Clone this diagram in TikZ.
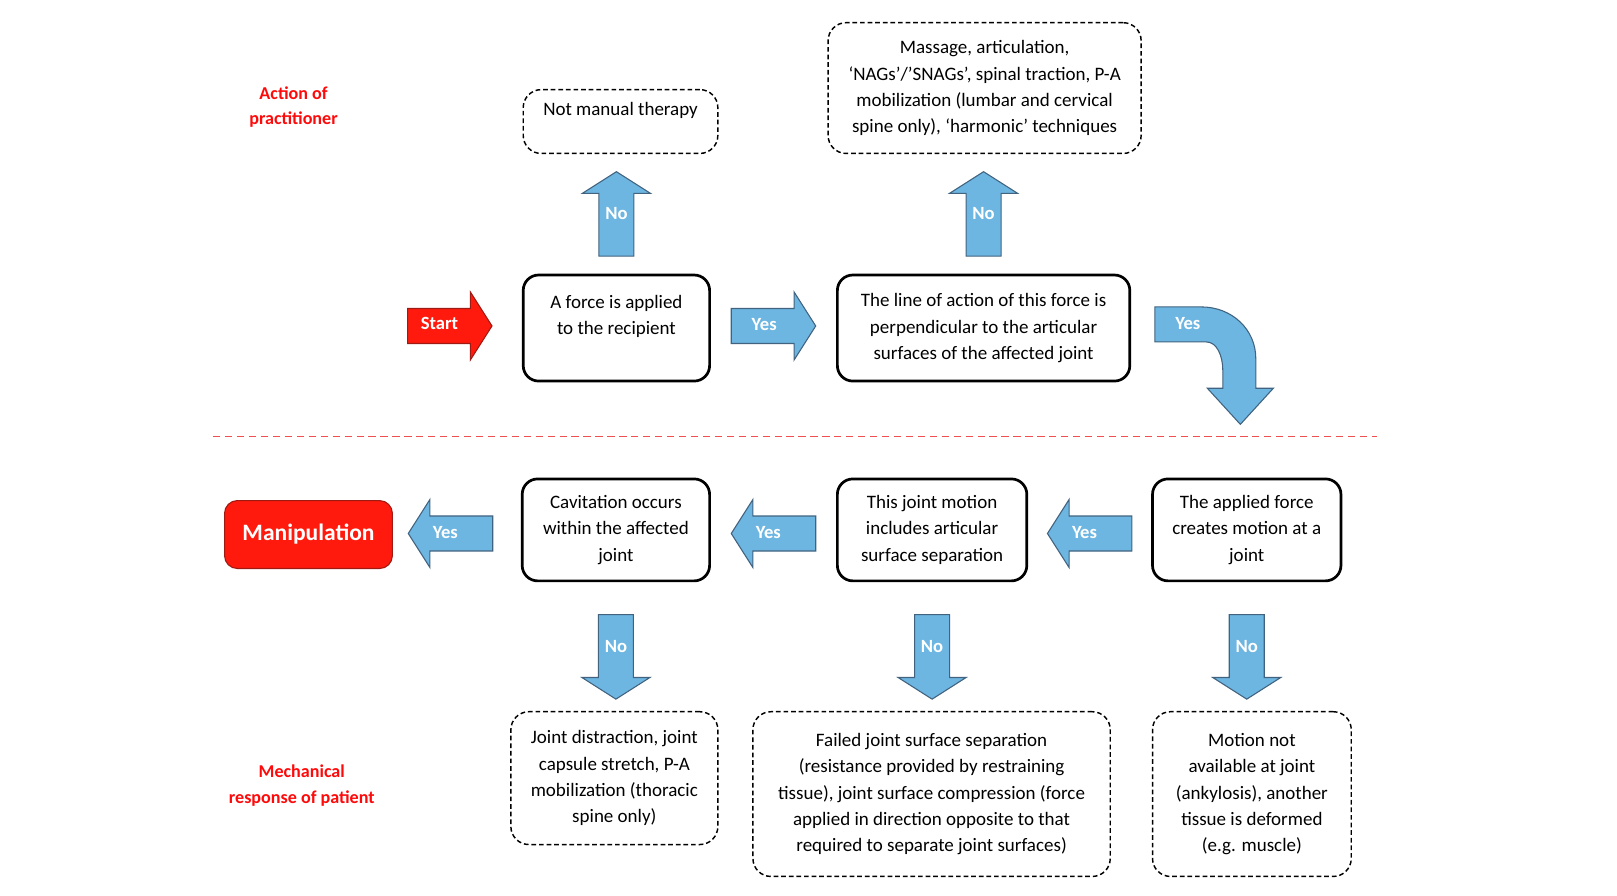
\documentclass[tikz,border=0pt]{standalone}
\usepackage{fontspec}
\setmainfont{Carlito}
\usetikzlibrary{positioning, calc}

\definecolor{arrowblue}{HTML}{6DB6E2}
\definecolor{arrowedge}{HTML}{41637F}
\definecolor{flowred}{HTML}{FF1A0D}
\definecolor{rededge}{HTML}{9E1A12}
\definecolor{labelred}{HTML}{FF0A0A}
\definecolor{splitred}{HTML}{EE4F4F}

\tikzset{
    stepbox/.style = {draw, line width=1.5pt, rounded corners=0.3cm, align=center,
        font=\fontsize{10.5}{14.5}\selectfont},
    optionbox/.style = {draw, line width=0.8pt, dash pattern=on 2.6pt off 1.6pt,
        rounded corners=0.35cm, align=center, font=\fontsize{10.5}{14.5}\selectfont},
    sidelabel/.style = {text=labelred, align=center, font=\bfseries\fontsize{10}{14.2}\selectfont},
    arrowlabel/.style = {text=white, font=\bfseries\fontsize{10.3}{12}\selectfont},
    bluearrow/.style = {fill=arrowblue, draw=arrowedge, line width=0.6pt},
    redarrow/.style = {fill=flowred, draw=rededge, line width=0.6pt},
    pics/blockarrow/.style = {code = {
        \draw[#1] (-41,-17) -- (20,-17) -- (20,-33) -- (41,0) -- (20,33) -- (20,17) -- (-41,17) -- cycle;
    }},
    pics/blockarrow/.default = bluearrow
}

\begin{document}
\begin{tikzpicture}[x = 0.02cm, y = -0.02cm]
    \useasboundingbox (0,0) rectangle (1570,869);

    % side labels and the dividing line
    \node[sidelabel] (action) at (285,104) {Action of\\practitioner};
    \node[sidelabel] (response) at (293,763) {Mechanical\\response of patient};
    \draw[splitred, line width=0.8pt, dash pattern=on 4pt off 2.6pt] (207,424) -- (1337,424);

    % upper row
    \node[stepbox, minimum width=3.62cm, minimum height=2.06cm] (force) at (598.5,318.5)
        {A force is applied\\to the recipient\\\mbox{}};
    \node[stepbox, minimum width=5.68cm, minimum height=2.06cm] (line) at (955,318.5)
        {The line of action of this force is\\perpendicular to the articular\\surfaces of the affected joint};
    \node[optionbox, minimum width=3.78cm, minimum height=1.24cm] (notmanual) at (602.5,118)
        {Not manual therapy\\\mbox{}};
    \node[optionbox, minimum width=6.08cm, minimum height=2.54cm] (massage) at (956,85.5)
        {Massage, articulation,\\‘NAGs’/’SNAGs’, spinal traction, P-A\\mobilization (lumbar and cervical\\spine only), ‘harmonic’ techniques};

    % lower row
    \node[stepbox, minimum width=3.66cm, minimum height=1.98cm] (applied) at (1210.5,514.5)
        {The applied force\\creates motion at a\\joint};
    \node[stepbox, minimum width=3.68cm, minimum height=1.98cm] (motion) at (905,514.5)
        {This joint motion\\includes articular\\surface separation};
    \node[stepbox, minimum width=3.64cm, minimum height=1.98cm] (cavitation) at (598,514.5)
        {Cavitation occurs\\within the affected\\joint};
    \node[draw=rededge, fill=flowred, line width=0.6pt, rounded corners=0.25cm, minimum width=3.26cm,
        minimum height=1.32cm, text=white, font=\bfseries\fontsize{13}{15}\selectfont] (manip) at (299.5,519)
        {Manipulation};
    \node[optionbox, minimum width=4.02cm, minimum height=2.58cm] (distraction) at (596.5,755.5)
        {Joint distraction, joint\\capsule stretch, P-A\\mobilization (thoracic\\spine only)};
    \node[optionbox, minimum width=6.94cm, minimum height=3.2cm] (failed) at (904.5,771)
        {Failed joint surface separation\\(resistance provided by restraining\\tissue), joint surface compression (force\\applied in direction opposite to that\\required to separate joint surfaces)};
    \node[optionbox, minimum width=3.86cm, minimum height=3.2cm] (motionnot) at (1215.5,771)
        {Motion not\\available at joint\\(ankylosis), another\\tissue is deformed\\(e.g. muscle)};

    % start arrow
    \coordinate (startpt) at ($(force.west)+(-70,-2)$);
    \pic at (startpt) {blockarrow=redarrow};
    \node[arrowlabel] (start) at ($(startpt)+(-10,-2)$) {Start};

    % yes arrows between the boxes
    \foreach \src/\dst/\name/\pos/\turn/\dx/\dy in {force/line/yesA/0.5/0/-9/-2,
        motion/applied/yesB/0.5/180/-5/3.5, cavitation/motion/yesC/0.5/180/-5/3.5,
        manip/cavitation/yesD/0.45/180/-5/1}
    {
        \coordinate (\name) at ($(\src.east)!\pos!(\dst.west)+(0,\dy)$);
        \pic[rotate=\turn] at (\name) {blockarrow};
        \node[arrowlabel] (\name-text) at ($(\name)+(\dx,-1)$) {Yes};
    }

    % yes arrow turning down to the lower row
    \coordinate (turn) at ($(line.east)+(23,-3.5)$);
    \begin{scope}[shift={(turn)}]
        \draw[bluearrow] (0,-17) -- (45,-17) .. controls (75,-17) and (98,5) .. (98,33) -- (98,62)
            -- (115,62) -- (83,97) -- (51,62) -- (66,62) -- (66,45) .. controls (66,30) and (60,17) .. (50,17)
            -- (0,17) -- cycle;
        \node[arrowlabel] (yesturn) at (32,-1) {Yes};
    \end{scope}

    % no arrows going up
    \foreach \src/\dst/\name in {force/notmanual/noA, line/massage/noB}
    {
        \coordinate (\name) at ($(\src.north)!0.5!(\src.north |- \dst.south)$);
        \pic[rotate=90] at (\name) {blockarrow};
        \node[arrowlabel] (\name-text) at ($(\name)+(0,0)$) {No};
    }

    % no arrows going down
    \foreach \src/\dst/\name in {cavitation/distraction/noC, motion/failed/noD, applied/motionnot/noE}
    {
        \coordinate (\name) at ($(\src.south)!0.58!(\src.south |- \dst.north)$);
        \pic[rotate=-90] at (\name) {blockarrow};
        \node[arrowlabel] (\name-text) at ($(\name)+(0,-10)$) {No};
    }
\end{tikzpicture}
\end{document}
